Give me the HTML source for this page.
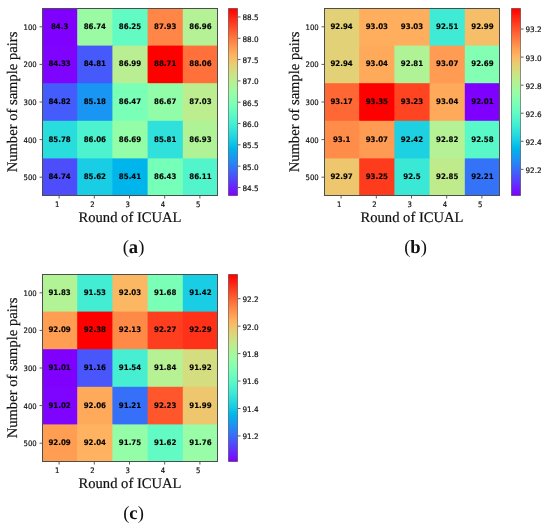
<!DOCTYPE html>
<html><head><meta charset="utf-8"><style>
html,body{margin:0;padding:0;background:#fff;}
svg{display:block;filter:blur(0.35px);}
text{text-rendering:geometricPrecision;}
.ann{font-family:"DejaVu Sans",sans-serif;font-weight:bold;font-size:7.6px;text-anchor:middle;fill:#000;stroke:#000;stroke-width:0.15px;}
.tk{font-family:"DejaVu Sans",sans-serif;font-size:7.5px;fill:#111;stroke:#111;stroke-width:0.2px;}
.lab{font-family:"Liberation Serif",serif;font-size:14.6px;fill:#111;stroke:#111;stroke-width:0.2px;}
.pan{font-family:"Liberation Serif",serif;font-size:18.6px;fill:#111;}
</style></head><body>
<svg width="550" height="530" viewBox="0 0 550 530">
<rect width="550" height="530" fill="#fff"/>
<rect x="42.00" y="8.00" width="36.20" height="38.60" fill="#8000ff"/>
<rect x="77.20" y="8.00" width="36.20" height="38.60" fill="#9bfba5"/>
<rect x="112.40" y="8.00" width="36.20" height="38.60" fill="#62fbc4"/>
<rect x="147.60" y="8.00" width="36.20" height="38.60" fill="#ff8646"/>
<rect x="182.80" y="8.00" width="35.20" height="38.60" fill="#b4f295"/>
<rect x="42.00" y="45.60" width="36.20" height="38.60" fill="#7e03ff"/>
<rect x="77.20" y="45.60" width="36.20" height="38.60" fill="#4659fb"/>
<rect x="112.40" y="45.60" width="36.20" height="38.60" fill="#b9ef92"/>
<rect x="147.60" y="45.60" width="36.20" height="38.60" fill="#ff0000"/>
<rect x="182.80" y="45.60" width="35.20" height="38.60" fill="#ff703a"/>
<rect x="42.00" y="83.20" width="36.20" height="38.60" fill="#445cfb"/>
<rect x="77.20" y="83.20" width="36.20" height="38.60" fill="#1996f3"/>
<rect x="112.40" y="83.20" width="36.20" height="38.60" fill="#7affb7"/>
<rect x="147.60" y="83.20" width="36.20" height="38.60" fill="#92fda9"/>
<rect x="182.80" y="83.20" width="35.20" height="38.60" fill="#bced8f"/>
<rect x="42.00" y="120.80" width="36.20" height="38.60" fill="#2adddd"/>
<rect x="77.20" y="120.80" width="36.20" height="38.60" fill="#4df3ce"/>
<rect x="112.40" y="120.80" width="36.20" height="38.60" fill="#94fda8"/>
<rect x="147.60" y="120.80" width="36.20" height="38.60" fill="#2fe0db"/>
<rect x="182.80" y="120.80" width="35.20" height="38.60" fill="#b0f397"/>
<rect x="42.00" y="158.40" width="36.20" height="37.60" fill="#4e4dfc"/>
<rect x="77.20" y="158.40" width="36.20" height="37.60" fill="#18cde4"/>
<rect x="112.40" y="158.40" width="36.20" height="37.60" fill="#00b5eb"/>
<rect x="147.60" y="158.40" width="36.20" height="37.60" fill="#76ffb9"/>
<rect x="182.80" y="158.40" width="35.20" height="37.60" fill="#52f5cb"/>
<text class="ann" transform="translate(59.60,28.80) scale(0.93,1)">84.3</text>
<text class="ann" transform="translate(94.80,28.80) scale(0.93,1)">86.74</text>
<text class="ann" transform="translate(130.00,28.80) scale(0.93,1)">86.25</text>
<text class="ann" transform="translate(165.20,28.80) scale(0.93,1)">87.93</text>
<text class="ann" transform="translate(200.40,28.80) scale(0.93,1)">86.96</text>
<text class="ann" transform="translate(59.60,66.40) scale(0.93,1)">84.33</text>
<text class="ann" transform="translate(94.80,66.40) scale(0.93,1)">84.81</text>
<text class="ann" transform="translate(130.00,66.40) scale(0.93,1)">86.99</text>
<text class="ann" transform="translate(165.20,66.40) scale(0.93,1)">88.71</text>
<text class="ann" transform="translate(200.40,66.40) scale(0.93,1)">88.06</text>
<text class="ann" transform="translate(59.60,104.00) scale(0.93,1)">84.82</text>
<text class="ann" transform="translate(94.80,104.00) scale(0.93,1)">85.18</text>
<text class="ann" transform="translate(130.00,104.00) scale(0.93,1)">86.47</text>
<text class="ann" transform="translate(165.20,104.00) scale(0.93,1)">86.67</text>
<text class="ann" transform="translate(200.40,104.00) scale(0.93,1)">87.03</text>
<text class="ann" transform="translate(59.60,141.60) scale(0.93,1)">85.78</text>
<text class="ann" transform="translate(94.80,141.60) scale(0.93,1)">86.06</text>
<text class="ann" transform="translate(130.00,141.60) scale(0.93,1)">86.69</text>
<text class="ann" transform="translate(165.20,141.60) scale(0.93,1)">85.81</text>
<text class="ann" transform="translate(200.40,141.60) scale(0.93,1)">86.93</text>
<text class="ann" transform="translate(59.60,179.20) scale(0.93,1)">84.74</text>
<text class="ann" transform="translate(94.80,179.20) scale(0.93,1)">85.62</text>
<text class="ann" transform="translate(130.00,179.20) scale(0.93,1)">85.41</text>
<text class="ann" transform="translate(165.20,179.20) scale(0.93,1)">86.43</text>
<text class="ann" transform="translate(200.40,179.20) scale(0.93,1)">86.11</text>
<rect x="42.50" y="8.50" width="175" height="187" fill="none" stroke="#4d4d4d" stroke-width="1"/>
<line x1="39.50" y1="26.80" x2="42.00" y2="26.80" stroke="#333" stroke-width="0.8"/>
<text class="tk" text-anchor="end" transform="translate(36.70,29.70) scale(0.92,1)">100</text>
<line x1="39.50" y1="64.40" x2="42.00" y2="64.40" stroke="#333" stroke-width="0.8"/>
<text class="tk" text-anchor="end" transform="translate(36.70,67.30) scale(0.92,1)">200</text>
<line x1="39.50" y1="102.00" x2="42.00" y2="102.00" stroke="#333" stroke-width="0.8"/>
<text class="tk" text-anchor="end" transform="translate(36.70,104.90) scale(0.92,1)">300</text>
<line x1="39.50" y1="139.60" x2="42.00" y2="139.60" stroke="#333" stroke-width="0.8"/>
<text class="tk" text-anchor="end" transform="translate(36.70,142.50) scale(0.92,1)">400</text>
<line x1="39.50" y1="177.20" x2="42.00" y2="177.20" stroke="#333" stroke-width="0.8"/>
<text class="tk" text-anchor="end" transform="translate(36.70,180.10) scale(0.92,1)">500</text>
<line x1="59.10" y1="196.00" x2="59.10" y2="198.50" stroke="#333" stroke-width="0.8"/>
<text class="tk" text-anchor="middle" transform="translate(57.30,206.60) scale(0.92,1)">1</text>
<line x1="94.30" y1="196.00" x2="94.30" y2="198.50" stroke="#333" stroke-width="0.8"/>
<text class="tk" text-anchor="middle" transform="translate(92.50,206.60) scale(0.92,1)">2</text>
<line x1="129.50" y1="196.00" x2="129.50" y2="198.50" stroke="#333" stroke-width="0.8"/>
<text class="tk" text-anchor="middle" transform="translate(127.70,206.60) scale(0.92,1)">3</text>
<line x1="164.70" y1="196.00" x2="164.70" y2="198.50" stroke="#333" stroke-width="0.8"/>
<text class="tk" text-anchor="middle" transform="translate(162.90,206.60) scale(0.92,1)">4</text>
<line x1="199.90" y1="196.00" x2="199.90" y2="198.50" stroke="#333" stroke-width="0.8"/>
<text class="tk" text-anchor="middle" transform="translate(198.10,206.60) scale(0.92,1)">5</text>
<text class="lab" text-anchor="middle" x="130.00" y="222.00">Round of ICUAL</text>
<text class="lab" text-anchor="middle" transform="translate(17.00,102.00) rotate(-90)">Number of sample pairs</text>
<text class="pan" text-anchor="middle" x="133.50" y="253.00">(<tspan font-weight="bold">a</tspan>)</text>
<defs><linearGradient id="ga" x1="0" y1="1" x2="0" y2="0"><stop offset="0.0000" stop-color="#8000ff"/><stop offset="0.0312" stop-color="#7019ff"/><stop offset="0.0625" stop-color="#6032fe"/><stop offset="0.0938" stop-color="#504afc"/><stop offset="0.1250" stop-color="#4062fa"/><stop offset="0.1562" stop-color="#3079f7"/><stop offset="0.1875" stop-color="#208ef4"/><stop offset="0.2188" stop-color="#10a2f0"/><stop offset="0.2500" stop-color="#00b5eb"/><stop offset="0.2812" stop-color="#10c6e6"/><stop offset="0.3125" stop-color="#20d5e1"/><stop offset="0.3438" stop-color="#30e1da"/><stop offset="0.3750" stop-color="#40ecd4"/><stop offset="0.4062" stop-color="#50f4cc"/><stop offset="0.4375" stop-color="#60fac5"/><stop offset="0.4688" stop-color="#70febc"/><stop offset="0.5000" stop-color="#80ffb4"/><stop offset="0.5312" stop-color="#90feab"/><stop offset="0.5625" stop-color="#a0faa1"/><stop offset="0.5938" stop-color="#b0f397"/><stop offset="0.6250" stop-color="#c0eb8d"/><stop offset="0.6562" stop-color="#d0e082"/><stop offset="0.6875" stop-color="#e0d377"/><stop offset="0.7188" stop-color="#f0c46c"/><stop offset="0.7500" stop-color="#ffb360"/><stop offset="0.7812" stop-color="#ffa055"/><stop offset="0.8125" stop-color="#ff8c49"/><stop offset="0.8438" stop-color="#ff763d"/><stop offset="0.8750" stop-color="#ff5f30"/><stop offset="0.9062" stop-color="#ff4724"/><stop offset="0.9375" stop-color="#ff2f18"/><stop offset="0.9688" stop-color="#ff160b"/><stop offset="1.0000" stop-color="#ff0000"/></linearGradient></defs>
<rect x="228.50" y="8.50" width="9" height="187" fill="url(#ga)" stroke="#000" stroke-opacity="0.4" stroke-width="1"/>
<line x1="238.00" y1="187.47" x2="240.50" y2="187.47" stroke="#333" stroke-width="0.8"/>
<text class="tk" transform="translate(242.40,190.87) scale(0.97,1)">84.5</text>
<line x1="238.00" y1="166.16" x2="240.50" y2="166.16" stroke="#333" stroke-width="0.8"/>
<text class="tk" transform="translate(242.40,169.56) scale(0.97,1)">85.0</text>
<line x1="238.00" y1="144.84" x2="240.50" y2="144.84" stroke="#333" stroke-width="0.8"/>
<text class="tk" transform="translate(242.40,148.24) scale(0.97,1)">85.5</text>
<line x1="238.00" y1="123.53" x2="240.50" y2="123.53" stroke="#333" stroke-width="0.8"/>
<text class="tk" transform="translate(242.40,126.93) scale(0.97,1)">86.0</text>
<line x1="238.00" y1="102.21" x2="240.50" y2="102.21" stroke="#333" stroke-width="0.8"/>
<text class="tk" transform="translate(242.40,105.61) scale(0.97,1)">86.5</text>
<line x1="238.00" y1="80.90" x2="240.50" y2="80.90" stroke="#333" stroke-width="0.8"/>
<text class="tk" transform="translate(242.40,84.30) scale(0.97,1)">87.0</text>
<line x1="238.00" y1="59.58" x2="240.50" y2="59.58" stroke="#333" stroke-width="0.8"/>
<text class="tk" transform="translate(242.40,62.98) scale(0.97,1)">87.5</text>
<line x1="238.00" y1="38.27" x2="240.50" y2="38.27" stroke="#333" stroke-width="0.8"/>
<text class="tk" transform="translate(242.40,41.67) scale(0.97,1)">88.0</text>
<line x1="238.00" y1="16.95" x2="240.50" y2="16.95" stroke="#333" stroke-width="0.8"/>
<text class="tk" transform="translate(242.40,20.35) scale(0.97,1)">88.5</text>
<rect x="324.00" y="8.00" width="36.20" height="38.60" fill="#e2d176"/>
<rect x="359.20" y="8.00" width="36.20" height="38.60" fill="#ffae5e"/>
<rect x="394.40" y="8.00" width="36.20" height="38.60" fill="#ffae5e"/>
<rect x="429.60" y="8.00" width="36.20" height="38.60" fill="#3febd5"/>
<rect x="464.80" y="8.00" width="35.20" height="38.60" fill="#f6be68"/>
<rect x="324.00" y="45.60" width="36.20" height="38.60" fill="#e2d176"/>
<rect x="359.20" y="45.60" width="36.20" height="38.60" fill="#ffa95b"/>
<rect x="394.40" y="45.60" width="36.20" height="38.60" fill="#b0f397"/>
<rect x="429.60" y="45.60" width="36.20" height="38.60" fill="#ff9b52"/>
<rect x="464.80" y="45.60" width="35.20" height="38.60" fill="#82ffb3"/>
<rect x="324.00" y="83.20" width="36.20" height="38.60" fill="#ff6835"/>
<rect x="359.20" y="83.20" width="36.20" height="38.60" fill="#ff0000"/>
<rect x="394.40" y="83.20" width="36.20" height="38.60" fill="#ff4422"/>
<rect x="429.60" y="83.20" width="36.20" height="38.60" fill="#ffa95b"/>
<rect x="464.80" y="83.20" width="35.20" height="38.60" fill="#8000ff"/>
<rect x="324.00" y="120.80" width="36.20" height="38.60" fill="#ff8c49"/>
<rect x="359.20" y="120.80" width="36.20" height="38.60" fill="#ff9b52"/>
<rect x="394.40" y="120.80" width="36.20" height="38.60" fill="#1dd1e2"/>
<rect x="429.60" y="120.80" width="36.20" height="38.60" fill="#b4f295"/>
<rect x="464.80" y="120.80" width="35.20" height="38.60" fill="#58f8c9"/>
<rect x="324.00" y="158.40" width="36.20" height="37.60" fill="#eec66d"/>
<rect x="359.20" y="158.40" width="36.20" height="37.60" fill="#ff3b1e"/>
<rect x="394.40" y="158.40" width="36.20" height="37.60" fill="#3ae8d6"/>
<rect x="429.60" y="158.40" width="36.20" height="37.60" fill="#c0eb8d"/>
<rect x="464.80" y="158.40" width="35.20" height="37.60" fill="#3473f8"/>
<text class="ann" transform="translate(341.60,28.80) scale(0.93,1)">92.94</text>
<text class="ann" transform="translate(376.80,28.80) scale(0.93,1)">93.03</text>
<text class="ann" transform="translate(412.00,28.80) scale(0.93,1)">93.03</text>
<text class="ann" transform="translate(447.20,28.80) scale(0.93,1)">92.51</text>
<text class="ann" transform="translate(482.40,28.80) scale(0.93,1)">92.99</text>
<text class="ann" transform="translate(341.60,66.40) scale(0.93,1)">92.94</text>
<text class="ann" transform="translate(376.80,66.40) scale(0.93,1)">93.04</text>
<text class="ann" transform="translate(412.00,66.40) scale(0.93,1)">92.81</text>
<text class="ann" transform="translate(447.20,66.40) scale(0.93,1)">93.07</text>
<text class="ann" transform="translate(482.40,66.40) scale(0.93,1)">92.69</text>
<text class="ann" transform="translate(341.60,104.00) scale(0.93,1)">93.17</text>
<text class="ann" transform="translate(376.80,104.00) scale(0.93,1)">93.35</text>
<text class="ann" transform="translate(412.00,104.00) scale(0.93,1)">93.23</text>
<text class="ann" transform="translate(447.20,104.00) scale(0.93,1)">93.04</text>
<text class="ann" transform="translate(482.40,104.00) scale(0.93,1)">92.01</text>
<text class="ann" transform="translate(341.60,141.60) scale(0.93,1)">93.1</text>
<text class="ann" transform="translate(376.80,141.60) scale(0.93,1)">93.07</text>
<text class="ann" transform="translate(412.00,141.60) scale(0.93,1)">92.42</text>
<text class="ann" transform="translate(447.20,141.60) scale(0.93,1)">92.82</text>
<text class="ann" transform="translate(482.40,141.60) scale(0.93,1)">92.58</text>
<text class="ann" transform="translate(341.60,179.20) scale(0.93,1)">92.97</text>
<text class="ann" transform="translate(376.80,179.20) scale(0.93,1)">93.25</text>
<text class="ann" transform="translate(412.00,179.20) scale(0.93,1)">92.5</text>
<text class="ann" transform="translate(447.20,179.20) scale(0.93,1)">92.85</text>
<text class="ann" transform="translate(482.40,179.20) scale(0.93,1)">92.21</text>
<rect x="324.50" y="8.50" width="175" height="187" fill="none" stroke="#4d4d4d" stroke-width="1"/>
<line x1="321.50" y1="26.80" x2="324.00" y2="26.80" stroke="#333" stroke-width="0.8"/>
<text class="tk" text-anchor="end" transform="translate(318.70,29.70) scale(0.92,1)">100</text>
<line x1="321.50" y1="64.40" x2="324.00" y2="64.40" stroke="#333" stroke-width="0.8"/>
<text class="tk" text-anchor="end" transform="translate(318.70,67.30) scale(0.92,1)">200</text>
<line x1="321.50" y1="102.00" x2="324.00" y2="102.00" stroke="#333" stroke-width="0.8"/>
<text class="tk" text-anchor="end" transform="translate(318.70,104.90) scale(0.92,1)">300</text>
<line x1="321.50" y1="139.60" x2="324.00" y2="139.60" stroke="#333" stroke-width="0.8"/>
<text class="tk" text-anchor="end" transform="translate(318.70,142.50) scale(0.92,1)">400</text>
<line x1="321.50" y1="177.20" x2="324.00" y2="177.20" stroke="#333" stroke-width="0.8"/>
<text class="tk" text-anchor="end" transform="translate(318.70,180.10) scale(0.92,1)">500</text>
<line x1="341.10" y1="196.00" x2="341.10" y2="198.50" stroke="#333" stroke-width="0.8"/>
<text class="tk" text-anchor="middle" transform="translate(339.30,206.60) scale(0.92,1)">1</text>
<line x1="376.30" y1="196.00" x2="376.30" y2="198.50" stroke="#333" stroke-width="0.8"/>
<text class="tk" text-anchor="middle" transform="translate(374.50,206.60) scale(0.92,1)">2</text>
<line x1="411.50" y1="196.00" x2="411.50" y2="198.50" stroke="#333" stroke-width="0.8"/>
<text class="tk" text-anchor="middle" transform="translate(409.70,206.60) scale(0.92,1)">3</text>
<line x1="446.70" y1="196.00" x2="446.70" y2="198.50" stroke="#333" stroke-width="0.8"/>
<text class="tk" text-anchor="middle" transform="translate(444.90,206.60) scale(0.92,1)">4</text>
<line x1="481.90" y1="196.00" x2="481.90" y2="198.50" stroke="#333" stroke-width="0.8"/>
<text class="tk" text-anchor="middle" transform="translate(480.10,206.60) scale(0.92,1)">5</text>
<text class="lab" text-anchor="middle" x="412.00" y="222.00">Round of ICUAL</text>
<text class="lab" text-anchor="middle" transform="translate(299.00,102.00) rotate(-90)">Number of sample pairs</text>
<text class="pan" text-anchor="middle" x="415.50" y="253.00">(<tspan font-weight="bold">b</tspan>)</text>
<defs><linearGradient id="gb" x1="0" y1="1" x2="0" y2="0"><stop offset="0.0000" stop-color="#8000ff"/><stop offset="0.0312" stop-color="#7019ff"/><stop offset="0.0625" stop-color="#6032fe"/><stop offset="0.0938" stop-color="#504afc"/><stop offset="0.1250" stop-color="#4062fa"/><stop offset="0.1562" stop-color="#3079f7"/><stop offset="0.1875" stop-color="#208ef4"/><stop offset="0.2188" stop-color="#10a2f0"/><stop offset="0.2500" stop-color="#00b5eb"/><stop offset="0.2812" stop-color="#10c6e6"/><stop offset="0.3125" stop-color="#20d5e1"/><stop offset="0.3438" stop-color="#30e1da"/><stop offset="0.3750" stop-color="#40ecd4"/><stop offset="0.4062" stop-color="#50f4cc"/><stop offset="0.4375" stop-color="#60fac5"/><stop offset="0.4688" stop-color="#70febc"/><stop offset="0.5000" stop-color="#80ffb4"/><stop offset="0.5312" stop-color="#90feab"/><stop offset="0.5625" stop-color="#a0faa1"/><stop offset="0.5938" stop-color="#b0f397"/><stop offset="0.6250" stop-color="#c0eb8d"/><stop offset="0.6562" stop-color="#d0e082"/><stop offset="0.6875" stop-color="#e0d377"/><stop offset="0.7188" stop-color="#f0c46c"/><stop offset="0.7500" stop-color="#ffb360"/><stop offset="0.7812" stop-color="#ffa055"/><stop offset="0.8125" stop-color="#ff8c49"/><stop offset="0.8438" stop-color="#ff763d"/><stop offset="0.8750" stop-color="#ff5f30"/><stop offset="0.9062" stop-color="#ff4724"/><stop offset="0.9375" stop-color="#ff2f18"/><stop offset="0.9688" stop-color="#ff160b"/><stop offset="1.0000" stop-color="#ff0000"/></linearGradient></defs>
<rect x="511.50" y="8.50" width="9" height="187" fill="url(#gb)" stroke="#000" stroke-opacity="0.4" stroke-width="1"/>
<line x1="521.00" y1="169.34" x2="523.50" y2="169.34" stroke="#333" stroke-width="0.8"/>
<text class="tk" transform="translate(525.40,172.74) scale(0.97,1)">92.2</text>
<line x1="521.00" y1="141.28" x2="523.50" y2="141.28" stroke="#333" stroke-width="0.8"/>
<text class="tk" transform="translate(525.40,144.68) scale(0.97,1)">92.4</text>
<line x1="521.00" y1="113.22" x2="523.50" y2="113.22" stroke="#333" stroke-width="0.8"/>
<text class="tk" transform="translate(525.40,116.62) scale(0.97,1)">92.6</text>
<line x1="521.00" y1="85.16" x2="523.50" y2="85.16" stroke="#333" stroke-width="0.8"/>
<text class="tk" transform="translate(525.40,88.56) scale(0.97,1)">92.8</text>
<line x1="521.00" y1="57.10" x2="523.50" y2="57.10" stroke="#333" stroke-width="0.8"/>
<text class="tk" transform="translate(525.40,60.50) scale(0.97,1)">93.0</text>
<line x1="521.00" y1="29.04" x2="523.50" y2="29.04" stroke="#333" stroke-width="0.8"/>
<text class="tk" transform="translate(525.40,32.44) scale(0.97,1)">93.2</text>
<rect x="42.00" y="274.00" width="36.20" height="38.60" fill="#b2f396"/>
<rect x="77.20" y="274.00" width="36.20" height="38.60" fill="#42edd3"/>
<rect x="112.40" y="274.00" width="36.20" height="38.60" fill="#fcb763"/>
<rect x="147.60" y="274.00" width="36.20" height="38.60" fill="#7affb7"/>
<rect x="182.80" y="274.00" width="35.20" height="38.60" fill="#18cde4"/>
<rect x="42.00" y="311.60" width="36.20" height="38.60" fill="#ff9d53"/>
<rect x="77.20" y="311.60" width="36.20" height="38.60" fill="#ff0000"/>
<rect x="112.40" y="311.60" width="36.20" height="38.60" fill="#ff8947"/>
<rect x="147.60" y="311.60" width="36.20" height="38.60" fill="#ff3e1f"/>
<rect x="182.80" y="311.60" width="35.20" height="38.60" fill="#ff3219"/>
<rect x="42.00" y="349.20" width="36.20" height="38.60" fill="#8000ff"/>
<rect x="77.20" y="349.20" width="36.20" height="38.60" fill="#4856fb"/>
<rect x="112.40" y="349.20" width="36.20" height="38.60" fill="#46efd1"/>
<rect x="147.60" y="349.20" width="36.20" height="38.60" fill="#b6f193"/>
<rect x="182.80" y="349.20" width="35.20" height="38.60" fill="#d4dd80"/>
<rect x="42.00" y="386.80" width="36.20" height="38.60" fill="#7e03ff"/>
<rect x="77.20" y="386.80" width="36.20" height="38.60" fill="#ffa95b"/>
<rect x="112.40" y="386.80" width="36.20" height="38.60" fill="#3670f8"/>
<rect x="147.60" y="386.80" width="36.20" height="38.60" fill="#ff562c"/>
<rect x="182.80" y="386.80" width="35.20" height="38.60" fill="#eec66d"/>
<rect x="42.00" y="424.40" width="36.20" height="37.60" fill="#ff9d53"/>
<rect x="77.20" y="424.40" width="36.20" height="37.60" fill="#ffb360"/>
<rect x="112.40" y="424.40" width="36.20" height="37.60" fill="#94fda8"/>
<rect x="147.60" y="424.40" width="36.20" height="37.60" fill="#62fbc4"/>
<rect x="182.80" y="424.40" width="35.20" height="37.60" fill="#99fca6"/>
<text class="ann" transform="translate(59.60,294.80) scale(0.93,1)">91.83</text>
<text class="ann" transform="translate(94.80,294.80) scale(0.93,1)">91.53</text>
<text class="ann" transform="translate(130.00,294.80) scale(0.93,1)">92.03</text>
<text class="ann" transform="translate(165.20,294.80) scale(0.93,1)">91.68</text>
<text class="ann" transform="translate(200.40,294.80) scale(0.93,1)">91.42</text>
<text class="ann" transform="translate(59.60,332.40) scale(0.93,1)">92.09</text>
<text class="ann" transform="translate(94.80,332.40) scale(0.93,1)">92.38</text>
<text class="ann" transform="translate(130.00,332.40) scale(0.93,1)">92.13</text>
<text class="ann" transform="translate(165.20,332.40) scale(0.93,1)">92.27</text>
<text class="ann" transform="translate(200.40,332.40) scale(0.93,1)">92.29</text>
<text class="ann" transform="translate(59.60,370.00) scale(0.93,1)">91.01</text>
<text class="ann" transform="translate(94.80,370.00) scale(0.93,1)">91.16</text>
<text class="ann" transform="translate(130.00,370.00) scale(0.93,1)">91.54</text>
<text class="ann" transform="translate(165.20,370.00) scale(0.93,1)">91.84</text>
<text class="ann" transform="translate(200.40,370.00) scale(0.93,1)">91.92</text>
<text class="ann" transform="translate(59.60,407.60) scale(0.93,1)">91.02</text>
<text class="ann" transform="translate(94.80,407.60) scale(0.93,1)">92.06</text>
<text class="ann" transform="translate(130.00,407.60) scale(0.93,1)">91.21</text>
<text class="ann" transform="translate(165.20,407.60) scale(0.93,1)">92.23</text>
<text class="ann" transform="translate(200.40,407.60) scale(0.93,1)">91.99</text>
<text class="ann" transform="translate(59.60,445.20) scale(0.93,1)">92.09</text>
<text class="ann" transform="translate(94.80,445.20) scale(0.93,1)">92.04</text>
<text class="ann" transform="translate(130.00,445.20) scale(0.93,1)">91.75</text>
<text class="ann" transform="translate(165.20,445.20) scale(0.93,1)">91.62</text>
<text class="ann" transform="translate(200.40,445.20) scale(0.93,1)">91.76</text>
<rect x="42.50" y="274.50" width="175" height="187" fill="none" stroke="#4d4d4d" stroke-width="1"/>
<line x1="39.50" y1="292.80" x2="42.00" y2="292.80" stroke="#333" stroke-width="0.8"/>
<text class="tk" text-anchor="end" transform="translate(36.70,295.70) scale(0.92,1)">100</text>
<line x1="39.50" y1="330.40" x2="42.00" y2="330.40" stroke="#333" stroke-width="0.8"/>
<text class="tk" text-anchor="end" transform="translate(36.70,333.30) scale(0.92,1)">200</text>
<line x1="39.50" y1="368.00" x2="42.00" y2="368.00" stroke="#333" stroke-width="0.8"/>
<text class="tk" text-anchor="end" transform="translate(36.70,370.90) scale(0.92,1)">300</text>
<line x1="39.50" y1="405.60" x2="42.00" y2="405.60" stroke="#333" stroke-width="0.8"/>
<text class="tk" text-anchor="end" transform="translate(36.70,408.50) scale(0.92,1)">400</text>
<line x1="39.50" y1="443.20" x2="42.00" y2="443.20" stroke="#333" stroke-width="0.8"/>
<text class="tk" text-anchor="end" transform="translate(36.70,446.10) scale(0.92,1)">500</text>
<line x1="59.10" y1="462.00" x2="59.10" y2="464.50" stroke="#333" stroke-width="0.8"/>
<text class="tk" text-anchor="middle" transform="translate(57.30,472.60) scale(0.92,1)">1</text>
<line x1="94.30" y1="462.00" x2="94.30" y2="464.50" stroke="#333" stroke-width="0.8"/>
<text class="tk" text-anchor="middle" transform="translate(92.50,472.60) scale(0.92,1)">2</text>
<line x1="129.50" y1="462.00" x2="129.50" y2="464.50" stroke="#333" stroke-width="0.8"/>
<text class="tk" text-anchor="middle" transform="translate(127.70,472.60) scale(0.92,1)">3</text>
<line x1="164.70" y1="462.00" x2="164.70" y2="464.50" stroke="#333" stroke-width="0.8"/>
<text class="tk" text-anchor="middle" transform="translate(162.90,472.60) scale(0.92,1)">4</text>
<line x1="199.90" y1="462.00" x2="199.90" y2="464.50" stroke="#333" stroke-width="0.8"/>
<text class="tk" text-anchor="middle" transform="translate(198.10,472.60) scale(0.92,1)">5</text>
<text class="lab" text-anchor="middle" x="130.00" y="488.00">Round of ICUAL</text>
<text class="lab" text-anchor="middle" transform="translate(17.00,368.00) rotate(-90)">Number of sample pairs</text>
<text class="pan" text-anchor="middle" x="133.50" y="519.00">(<tspan font-weight="bold">c</tspan>)</text>
<defs><linearGradient id="gc" x1="0" y1="1" x2="0" y2="0"><stop offset="0.0000" stop-color="#8000ff"/><stop offset="0.0312" stop-color="#7019ff"/><stop offset="0.0625" stop-color="#6032fe"/><stop offset="0.0938" stop-color="#504afc"/><stop offset="0.1250" stop-color="#4062fa"/><stop offset="0.1562" stop-color="#3079f7"/><stop offset="0.1875" stop-color="#208ef4"/><stop offset="0.2188" stop-color="#10a2f0"/><stop offset="0.2500" stop-color="#00b5eb"/><stop offset="0.2812" stop-color="#10c6e6"/><stop offset="0.3125" stop-color="#20d5e1"/><stop offset="0.3438" stop-color="#30e1da"/><stop offset="0.3750" stop-color="#40ecd4"/><stop offset="0.4062" stop-color="#50f4cc"/><stop offset="0.4375" stop-color="#60fac5"/><stop offset="0.4688" stop-color="#70febc"/><stop offset="0.5000" stop-color="#80ffb4"/><stop offset="0.5312" stop-color="#90feab"/><stop offset="0.5625" stop-color="#a0faa1"/><stop offset="0.5938" stop-color="#b0f397"/><stop offset="0.6250" stop-color="#c0eb8d"/><stop offset="0.6562" stop-color="#d0e082"/><stop offset="0.6875" stop-color="#e0d377"/><stop offset="0.7188" stop-color="#f0c46c"/><stop offset="0.7500" stop-color="#ffb360"/><stop offset="0.7812" stop-color="#ffa055"/><stop offset="0.8125" stop-color="#ff8c49"/><stop offset="0.8438" stop-color="#ff763d"/><stop offset="0.8750" stop-color="#ff5f30"/><stop offset="0.9062" stop-color="#ff4724"/><stop offset="0.9375" stop-color="#ff2f18"/><stop offset="0.9688" stop-color="#ff160b"/><stop offset="1.0000" stop-color="#ff0000"/></linearGradient></defs>
<rect x="228.50" y="274.50" width="9" height="187" fill="url(#gc)" stroke="#000" stroke-opacity="0.4" stroke-width="1"/>
<line x1="238.00" y1="435.93" x2="240.50" y2="435.93" stroke="#333" stroke-width="0.8"/>
<text class="tk" transform="translate(242.40,439.33) scale(0.97,1)">91.2</text>
<line x1="238.00" y1="408.48" x2="240.50" y2="408.48" stroke="#333" stroke-width="0.8"/>
<text class="tk" transform="translate(242.40,411.88) scale(0.97,1)">91.4</text>
<line x1="238.00" y1="381.04" x2="240.50" y2="381.04" stroke="#333" stroke-width="0.8"/>
<text class="tk" transform="translate(242.40,384.44) scale(0.97,1)">91.6</text>
<line x1="238.00" y1="353.59" x2="240.50" y2="353.59" stroke="#333" stroke-width="0.8"/>
<text class="tk" transform="translate(242.40,356.99) scale(0.97,1)">91.8</text>
<line x1="238.00" y1="326.15" x2="240.50" y2="326.15" stroke="#333" stroke-width="0.8"/>
<text class="tk" transform="translate(242.40,329.55) scale(0.97,1)">92.0</text>
<line x1="238.00" y1="298.70" x2="240.50" y2="298.70" stroke="#333" stroke-width="0.8"/>
<text class="tk" transform="translate(242.40,302.10) scale(0.97,1)">92.2</text>
</svg>
</body></html>
